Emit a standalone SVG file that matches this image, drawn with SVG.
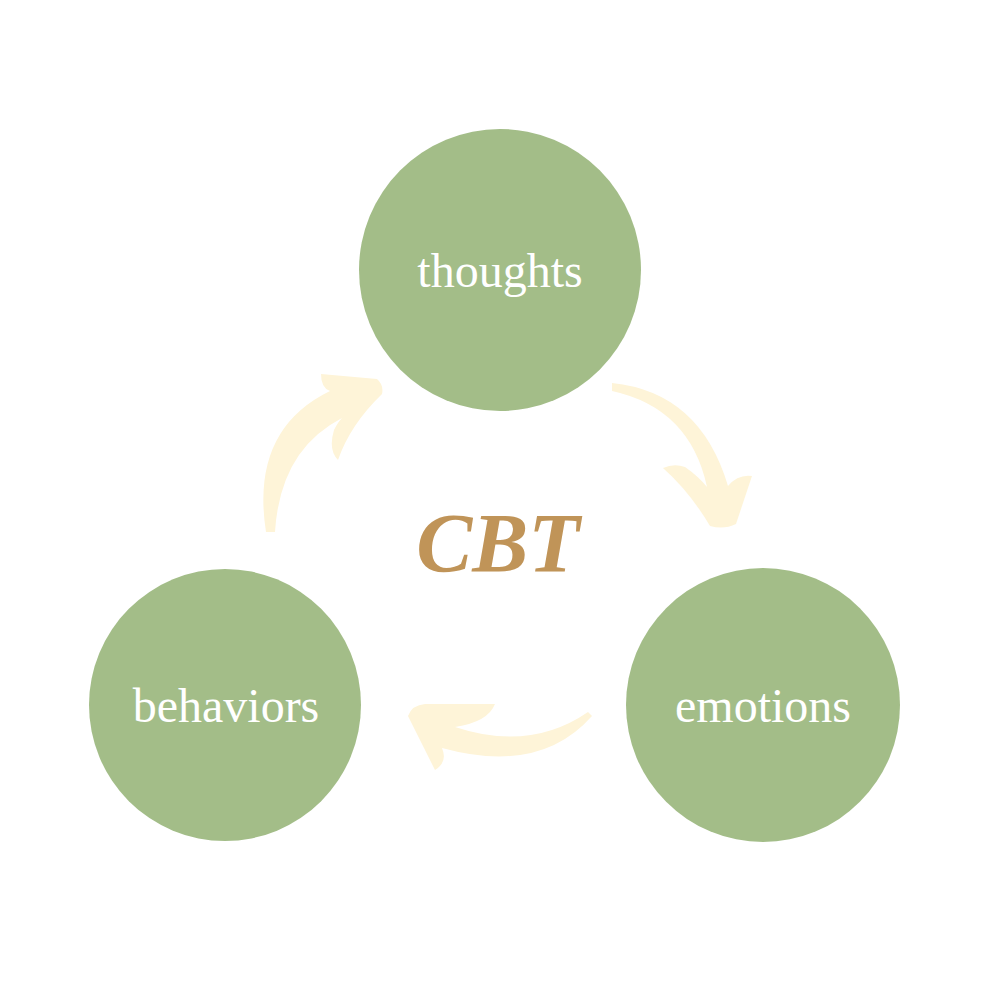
<svg xmlns="http://www.w3.org/2000/svg" width="1000" height="1000" viewBox="0 0 1000 1000">
<style>
.n{fill:#A3BD88}
.t{fill:#fff;font-family:"Liberation Serif","DejaVu Serif",serif;font-size:48px;text-anchor:middle}
.a{fill:#FEF4D8}
</style>
<rect width="1000" height="1000" fill="#fff"/>
<g id="connectors">
<path class="a" d="M612,383 Q700,392 728,486 Q738,474 752,476 L736,524 Q724,530 710,526 Q690,492 663,468 Q674,463 685,467 Q698,476 707,487 Q690,408 612,391 Z"/>
<path class="a" d="M266,532 Q250,430 330,391 Q321,388 321,374 L377,379 Q384,385 382,394 Q350,425 338,460 Q328,450 334,430 Q338,422 342,418 Q280,450 275,532 Z"/>
<path class="a" d="M408,716 Q412,705 425,704 L495,704 Q488,722 455,727 Q530,752 588,712 L592,716 Q540,775 442,748 Q448,762 435,770 Z"/>
</g>
<g id="thoughts"><circle class="n" cx="500" cy="270" r="141"/><text class="t" x="500" y="287">thoughts</text></g>
<g id="behaviors"><circle class="n" cx="225" cy="705" r="136"/><text class="t" x="226" y="722">behaviors</text></g>
<g id="emotions"><circle class="n" cx="763" cy="705" r="137"/><text class="t" x="763" y="722">emotions</text></g>
<g id="center"><text x="498" y="572" style="fill:#C09458;font-family:'Liberation Serif',serif;font-weight:bold;font-style:italic;font-size:84px;text-anchor:middle">CBT</text></g>
</svg>
